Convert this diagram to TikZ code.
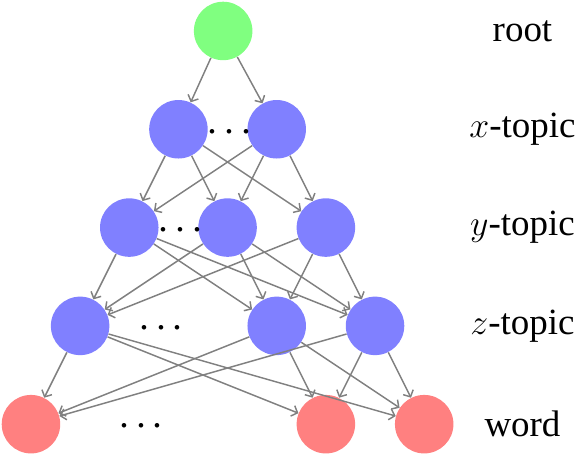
\documentclass[tikz,border=0pt]{standalone}
\usepackage{amssymb,amsmath}
\usepackage{fontspec}
\setmainfont{Liberation Serif}
\usepackage{tikz}
\usetikzlibrary{arrows.meta,shapes}
\tikzstyle{vertex}=[circle,minimum size=1.19cm,inner sep=0pt]
\tikzstyle{edge} = [draw,line width=0.85pt,gray,-{Straight Barb[length=3pt,width=6.5pt]}]
\tikzstyle{level}=[font=\fontsize{21.4}{26}\selectfont]
\tikzstyle{dots}=[font=\fontsize{24.5}{28}\selectfont,anchor=base,yshift=-7.4pt,inner sep=0pt]
\newcommand{\threedots}{${\cdot}\mkern2mu{\cdot}\mkern2mu{\cdot}$}

\begin{document}
\begin{tikzpicture}
        \useasboundingbox (-0.63,-0.67) rectangle (11.17,8.63);
        \node[vertex,fill=green!50] (r) at (3.91,8) {};
        \node[vertex,fill=blue!50] (x1) at (3,6) {};
        \node[vertex,fill=blue!50] (x2) at (5,6) {};
        \node[vertex,fill=blue!50] (y1) at (2,4) {};
        \node[vertex,fill=blue!50] (y2) at (4,4) {};
        \node[vertex,fill=blue!50] (y3) at (6,4) {};
        \node[vertex,fill=blue!50] (z1) at (1,2) {};
        \node[vertex,fill=blue!50] (z2) at (5,2) {};
        \node[vertex,fill=blue!50] (z3) at (7,2) {};
        \node[vertex,fill=red!50] (w1) at (0,0) {};
        \node[vertex,fill=red!50] (w2) at (6,0) {};
        \node[vertex,fill=red!50] (w3) at (8,0) {};
        % dots between the nodes
        \node[dots] (dx) at (4.04,6) {\threedots};
        \node[dots] (dy) at (3.04,4) {\threedots};
        \node[dots] (dz) at (2.65,2) {\threedots};
        \node[dots] (dw) at (2.24,0) {\threedots};
        % level names
        \node[level] (lr) at (10,8) {root};
        \node[level] (lx) at (10,6) {$x$-topic};
        \node[level] (ly) at (10,4) {$y$-topic};
        \node[level] (lz) at (10,2) {$z$-topic};
        \node[level] (lw) at (10,0) {word};
        \draw[edge] (r) to (x1);
        \draw[edge] (r) to (x2);
        \draw[edge] (x1) to (y1);
        \draw[edge] (x1) to (y2);
        \draw[edge] (x1) to (y3);
        \draw[edge] (x2) to (y1);
        \draw[edge] (x2) to (y2);
        \draw[edge] (x2) to (y3);
        \draw[edge] (y1) to (z1);
        \draw[edge] (y1) to (z2);
        \draw[edge] (y1) to (z3);
        \draw[edge] (y2) to (z1);
        \draw[edge] (y2) to (z2);
        \draw[edge] (y2) to (z3);
        \draw[edge] (y3) to (z1);
        \draw[edge] (y3) to (z2);
        \draw[edge] (y3) to (z3);
        \draw[edge] (z1) to (w1);
        \draw[edge] (z1) to (w2);
        \draw[edge] (z1) to (w3);
        \draw[edge] (z2) to (w1);
        \draw[edge] (z2) to (w2);
        \draw[edge] (z2) to (w3);
        \draw[edge] (z3) to (w1);
        \draw[edge] (z3) to (w2);
        \draw[edge] (z3) to (w3);
      \end{tikzpicture}
\end{document}
